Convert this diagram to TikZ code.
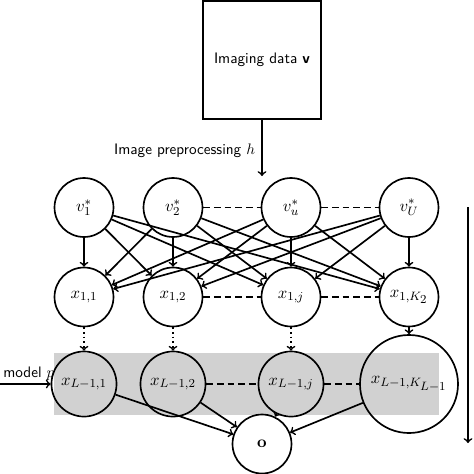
\documentclass[tikz,border=0pt]{standalone}
\begin{document}
\begin{tikzpicture}[x=0.658pt,y=-0.658pt, line width=1.1pt,
  nd/.style={circle,draw,minimum size=38.8pt,inner sep=1pt,font=\fontsize{11}{13}\selectfont},
  ndb/.style={circle,draw,minimum size=42.8pt,inner sep=1pt,font=\fontsize{11}{13}\selectfont},
  ndbig/.style={circle,draw,minimum size=64.5pt,inner sep=0pt,font=\fontsize{11}{13}\selectfont},
  dsh/.style={dash pattern=on 4.5pt off 2.5pt},
  dtd/.style={->,dotted},
  lbl/.style={font=\sffamily}]
\useasboundingbox (0,0) rectangle (474,474);
\clip (0,0) rectangle (474,474);
\fill[black!18] (54,353) rectangle (439,415);
% box
\node[draw, minimum width=77.6pt, minimum height=77.6pt, font=\sffamily] (img) at (262,60) {Imaging data \textbf{v}};
\coordinate (hend) at (262,176);
\draw[->] (img.south -| hend) -- (hend);
\node[lbl, anchor=base east, inner sep=0pt] (hlab) at (256,154) {Image preprocessing $h$};
% row 1
\node[nd] (v1) at (84,207.5) {$v_1^*$};
\node[nd] (v2) at (173,207.5) {$v_2^*$};
\node[nd] (vu) at (291,207.5) {$v_u^*$};
\node[nd] (vU) at (409,207.5) {$v_U^*$};
% row 2
\node[nd] (x1) at (84,297) {$x_{1,1}$};
\node[nd] (x2) at (173,297) {$x_{1,2}$};
\node[nd] (xj) at (291,297) {$x_{1,j}$};
\node[nd] (xK) at (409,297) {$x_{1,K_{\scriptstyle 2}}$};
% row 3
\node[ndb] (y1) at (84,384) {$x_{L-1,1}$};
\node[ndb] (y2) at (173,384) {$x_{L-1,2}$};
\node[ndb] (yj) at (291,384) {$x_{L-1,j}$};
\node[ndbig] (yK) at (409,384) {$x_{L-1,K_{\scriptstyle L-1}}$};
% output
\node[nd] (o) at (262,444) {$\mathbf{o}$};
% dashed
\draw[dsh] (v2) -- (vu);
\draw[dsh] (vu) -- (vU);
\draw[dsh] (x2) -- (xj);
\draw[dsh] (xj) -- (xK);
\draw[dsh] (y2) -- (yj);
\draw[dsh] (yj) -- (yK);
% bipartite
\foreach \a in {v1,v2,vu,vU}{
  \foreach \b in {x1,x2,xj,xK}{
    \draw[->] (\a) -- (\b);
  }
}
% dotted
\draw[dtd] (x1) -- (y1);
\draw[dtd] (x2) -- (y2);
\draw[dtd] (xj) -- (yj);
\draw[->] (xK) -- (yK);
% to output
\foreach \a in {y1,y2,yj,yK}{
  \draw[->] (\a) -- (o);
}
% model p
\node[lbl, anchor=base west, inner sep=0pt] (mlab) at (2.5,377) {model $p$};
\coordinate (mstart) at (-5,384);
\draw[->] (mstart) -- (y1);
% right arrow
\coordinate (ra) at (468,207);
\coordinate (rb) at (468,443);
\draw[->] (ra) -- (rb);
\end{tikzpicture}
\end{document}
